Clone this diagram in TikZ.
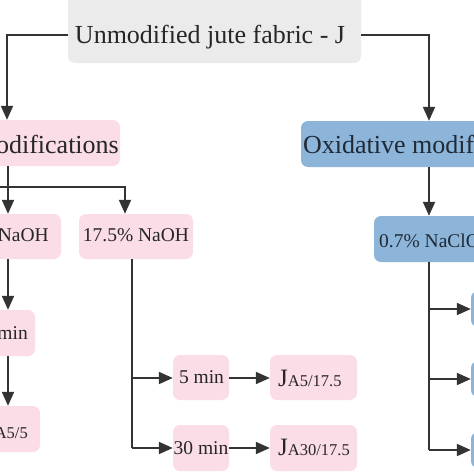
\documentclass[tikz,border=0pt]{standalone}
\usepackage{fontspec}
\setmainfont{Liberation Serif}
\usetikzlibrary{arrows.meta}
\definecolor{pinkc}{HTML}{FADDE7}
\definecolor{grayc}{HTML}{EBEBEB}
\definecolor{bluec}{HTML}{8DB5DA}
\definecolor{linec}{HTML}{333333}
\definecolor{txtc}{HTML}{262626}
\definecolor{btxt}{HTML}{1F2A36}
\tikzset{
  boxbase/.style={rectangle, rounded corners=7pt, draw=none, inner sep=0pt},
  pinkbox/.style={boxbase, fill=pinkc},
  graybox/.style={boxbase, fill=grayc},
  bluebox/.style={boxbase, fill=bluec},
  lbl/.style={inner sep=0pt, text=txtc},
  blbl/.style={inner sep=0pt, text=btxt},
  bigf/.style={font=\fontsize{26}{31}\selectfont},
  midf/.style={font=\fontsize{19.5}{23}\selectfont},
  subf/.style={font=\fontsize{16.5}{20}\selectfont},
  conn/.style={line width=2pt, draw=linec},
  arr/.style={conn, -{Triangle[length=14pt,width=12pt]}}
}
\begin{document}
\begin{tikzpicture}[x=1pt,y=-1pt]
\useasboundingbox (0,0) rectangle (474,474);
\clip (0,0) rectangle (474,474);
\fill[white] (0,0) rectangle (474,474);
% boxes
\node[graybox, minimum width=293pt, minimum height=73pt] (top) at (214.5,26.5) {};
\node[pinkbox, minimum width=226pt, minimum height=46pt] (alk) at (7,143) {};
\node[bluebox, minimum width=256pt, minimum height=46pt] (oxi) at (429,144) {};
\node[pinkbox, minimum width=114pt, minimum height=45pt] (naoh5) at (4,236.5) {};
\node[pinkbox, minimum width=114pt, minimum height=45pt] (naoh175) at (136,236.5) {};
\node[bluebox, minimum width=110pt, minimum height=46pt] (naclo) at (429,239) {};
\node[pinkbox, minimum width=54pt, minimum height=46pt] (min5) at (8,333) {};
\node[pinkbox, minimum width=64pt, minimum height=46pt] (ja55) at (8,429) {};
\node[pinkbox, minimum width=56pt, minimum height=45pt] (m5) at (201,377.5) {};
\node[pinkbox, minimum width=56pt, minimum height=46pt] (m30) at (201,448) {};
\node[pinkbox, minimum width=87pt, minimum height=45pt] (ja5) at (313.5,377.5) {};
\node[pinkbox, minimum width=87pt, minimum height=46pt] (ja30) at (313.5,448) {};
\node[bluebox, minimum width=90pt, minimum height=36pt] (b1) at (516,309) {};
\node[bluebox, minimum width=90pt, minimum height=36pt] (b2) at (516,379) {};
\node[bluebox, minimum width=90pt, minimum height=36pt] (b3) at (516,450) {};
% texts
\node[lbl, bigf, anchor=base] (toptxt) at (210,43) {Unmodified jute fabric - J};
\node[lbl, bigf, anchor=base east] (alktxt) at (119,153) {modifications};
\node[blbl, bigf, anchor=base west] (oxitxt) at (303,153) {Oxidative modif};
\node[lbl, midf, anchor=base east] (naoh5txt) at (49,241) {NaOH};
\node[lbl, midf, anchor=base] (naoh175txt) at (136,241) {17.5\% NaOH};
\node[blbl, midf, anchor=base west] (naclotxt) at (379,247) {0.7\% NaClO};
\node[lbl, midf, anchor=base east] (min5txt) at (28,339) {min};
\node[lbl, subf, anchor=base east] (ja55txt) at (28,438) {A5/5};
\node[lbl, midf, anchor=base] (m5txt) at (201.5,383) {5 min};
\node[lbl, midf, anchor=base] (m30txt) at (201,454) {30 min};
\node[lbl, anchor=base west] (ja5txt) at (278,386) {{\fontsize{25}{30}\selectfont J}{\fontsize{16.5}{20}\selectfont A5/17.5}};
\node[lbl, anchor=base west] (ja30txt) at (278,455) {{\fontsize{25}{30}\selectfont J}{\fontsize{16.5}{20}\selectfont A30/17.5}};
% connectors
\coordinate (ty) at (0,35);
\draw[arr] (top.west |- ty) -| (alk.north);
\draw[arr] (top.east |- ty) -| (oxi.north);
\coordinate (ax) at (8,0);
\draw[arr] (alk.south -| ax) -- (naoh5.north -| ax);
\coordinate (hb) at (-30,187);
\coordinate (hc) at (125,187);
\draw[arr] (hb) -- (hc) -- (hc |- naoh175.north);
\draw[arr] (naoh5.south -| ax) -- (min5.north -| ax);
\draw[arr] (min5.south -| ax) -- (ja55.north -| ax);
\coordinate (v1) at (132,378);
\coordinate (v2) at (132,448);
\draw[conn] (naoh175.south -| v1) -- (v2);
\draw[arr] (v1) -- (v1 -| m5.west);
\draw[arr] (v2) -- (v2 -| m30.west);
\draw[arr] (m5.east |- v1) -- (ja5.west |- v1);
\draw[arr] (m30.east |- v2) -- (ja30.west |- v2);
\draw[arr] (oxi.south) -- (naclo.north);
\coordinate (r1) at (429,309);
\coordinate (r2) at (429,379);
\coordinate (r3) at (429,450);
\draw[conn] (naclo.south) -- (r3);
\draw[arr] (r1) -- (b1.west);
\draw[arr] (r2) -- (b2.west);
\draw[arr] (r3) -- (b3.west);
\end{tikzpicture}
\end{document}
